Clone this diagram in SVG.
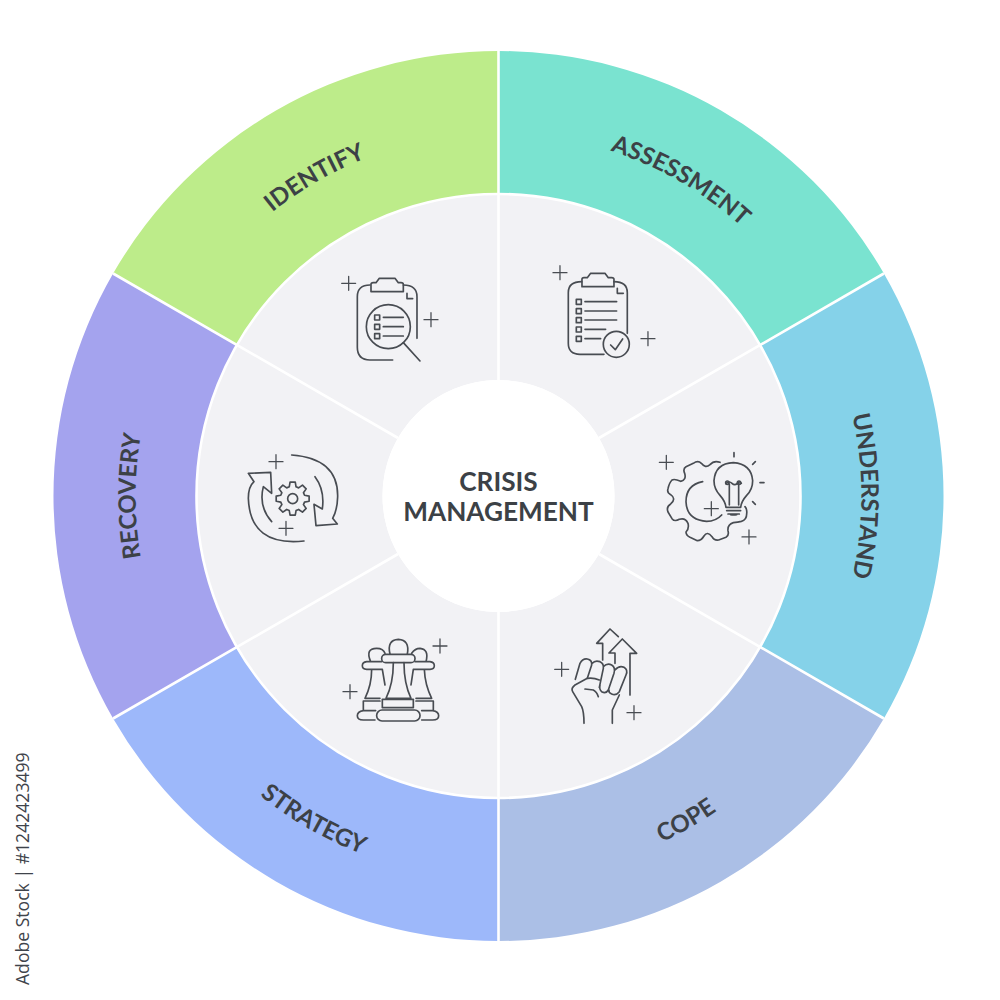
<svg xmlns="http://www.w3.org/2000/svg" width="1000" height="1000" viewBox="0 0 1000 1000">
<style>
.in{fill:#f2f2f5}
.sep{stroke:#fff;stroke-width:2.6;fill:none}
.lab{font-family:Lato,"Open Sans",sans-serif;font-weight:700;font-size:24px;fill:#3c4146;text-anchor:middle}
.ic{fill:none;stroke:#484c52;stroke-width:5;stroke-linecap:round;stroke-linejoin:round}
.sp{fill:none;stroke:#484c52;stroke-width:3.8;stroke-linecap:round}
</style>
<defs>
<path id="a1" d="M184.300 314.500A363 363 0 0 1 498.500 133"/>
<path id="a2" d="M498.500 133A363 363 0 0 1 812.700 314.500"/>
<path id="a3" d="M812.700 314.500A363 363 0 0 1 812.700 677.500"/>
<path id="a4" d="M498.500 879A383 383 0 0 0 830.200 687.500"/>
<path id="a5" d="M166.800 687.500A383 383 0 0 0 498.500 879"/>
<path id="a6" d="M184.300 677.500A363 363 0 0 1 184.300 314.500"/>
<path id="s" d="M-21 0H21M0 -21V21"/>
</defs>
<rect width="1000" height="1000" fill="#fff"/>

<g id="identify">
<path fill="#bdec8a" d="M113.100 273.500A445 445 0 0 1 498.500 51V194A302 302 0 0 0 237 345Z"/>
<path class="in" d="M237 345A302 302 0 0 1 498.500 194V380A116 116 0 0 0 398 438Z"/>
<text class="lab"><textPath href="#a1" startOffset="50%">IDENTIFY</textPath></text>
<g transform="translate(320 250) scale(.3333)">
<path class="ic" d="M218 330H150Q112 330 112 292V140Q112 105 150 105M250 105Q291 105 291 140V265"/>
<path class="ic" d="M153 125V103Q153 98 160 98H168L178 85H225L235 98H243Q250 98 250 103V125Z"/>
<path class="ic" d="M261 130V146H278"/>
<circle class="ic" cx="205" cy="230" r="66"/>
<path class="ic" d="M250 278L300 333M164 195h15v15h-15zM164 223h15v15h-15zM164 251h15v15h-15zM190 202H250M190 230H250M190 258H250"/>
<use href="#s" class="sp" x="86" y="100"/><use href="#s" class="sp" x="333" y="209"/>
</g>
</g>

<g id="assessment">
<path fill="#7ae3d0" d="M498.500 51A445 445 0 0 1 883.900 273.500L760 345A302 302 0 0 0 498.500 194Z"/>
<path class="in" d="M498.500 194A302 302 0 0 1 760 345L599 438A116 116 0 0 0 498.500 380Z"/>
<text class="lab"><textPath href="#a2" startOffset="50%">ASSESSMENT</textPath></text>
<g transform="translate(320 250) scale(.3333)">
<path class="ic" d="M852 313H780Q745 313 745 280V128Q745 95 785 95M882 95Q922 95 922 128V250"/>
<path class="ic" d="M786 110V88Q786 83 792 83H802L812 70H855L865 83H875Q882 83 882 88V110Z"/>
<path class="ic" d="M892 115V130H910"/>
<path class="ic" d="M769 148h15v15h-15zM769 176h15v15h-15zM769 203h15v15h-15zM769 231h15v15h-15zM769 259h15v15h-15zM795 155H890M795 183H890M795 210H890M795 238H857M795 266H842"/>
<circle class="ic" cx="889" cy="283" r="39"/>
<path class="ic" d="M872 285L886 299L908 267"/>
<use href="#s" class="sp" x="720" y="68"/><use href="#s" class="sp" x="984" y="266"/>
</g>
</g>

<g id="understand">
<path fill="#85d2e9" d="M883.900 273.500A445 445 0 0 1 883.900 718.500L760 647A302 302 0 0 0 760 345Z"/>
<path class="in" d="M760 345A302 302 0 0 1 760 647L599 554A116 116 0 0 0 599 438Z"/>
<text class="lab"><textPath href="#a3" startOffset="50%">UNDERSTAND</textPath></text>
<g transform="translate(640 430) scale(.3333)">
<path class="ic" d="M240 97Q222 90 210 104Q196 116 184 100Q174 90 160 100L138 110Q128 116 134 130Q140 150 122 154Q104 146 96 150Q88 158 84 176Q80 188 92 194Q110 206 92 222Q78 230 84 246L96 266Q104 276 118 268Q136 262 144 280Q148 296 138 306Q138 316 150 322L172 332Q184 332 192 318Q202 302 216 320Q222 332 236 330L258 322Q268 316 264 302Q262 284 280 278Q294 276 304 274Q320 270 320 252Q322 238 315 230"/>
<path class="ic" d="M188 155Q138 165 138 215Q140 270 200 274Q228 274 245 255"/>
<path class="ic" d="M258 232Q256 214 240 196Q222 176 222 152Q226 100 280 98Q334 102 338 152Q338 178 320 196Q304 214 302 232Z"/>
<path class="ic" d="M268 162V225M296 162V225M258 160Q268 152 276 160Q284 168 292 160Q300 152 304 160"/>
<circle class="ic" cx="262" cy="158" r="5"/><circle class="ic" cx="297" cy="158" r="5"/>
<path class="ic" d="M260 242H302M264 252H298M272 254Q280 256 290 254M282 68V80M346 95L338 103M360 158H372M338 215L346 223"/>
<use href="#s" class="sp" x="79" y="97"/><use href="#s" class="sp" x="214" y="236"/><use href="#s" class="sp" x="327" y="321"/>
</g>
</g>

<g id="cope">
<path fill="#abbfe6" d="M883.900 718.500A445 445 0 0 1 498.500 941V798A302 302 0 0 0 760 647Z"/>
<path class="in" d="M760 647A302 302 0 0 1 498.500 798V612A116 116 0 0 0 599 554Z"/>
<text class="lab"><textPath href="#a4" startOffset="50%">COPE</textPath></text>
<g transform="translate(530 610) scale(.3333)">
<path class="ic" d="M218 150V100H200L240 57L265 80M255 160V129H237L277 87L320 130H300V255"/>
<path class="ic" d="M136 208L150 160Q158 145 172 147Q187 150 185 165L172 205M187 160Q195 150 210 155Q222 160 220 175L208 232M220 170Q232 158 245 165Q257 172 252 190L235 240Q228 252 215 245Q207 238 210 225M255 180Q268 165 282 172Q295 180 288 195L268 245Q258 258 245 252Q235 248 237 240"/>
<path class="ic" d="M172 205L135 225Q122 235 128 245L155 290Q162 305 162 340M268 255L247 300V340M165 237L190 240Q200 245 205 260M172 205Q190 202 208 210"/>
<use href="#s" class="sp" x="95" y="178"/><use href="#s" class="sp" x="312" y="308"/>
</g>
</g>

<g id="strategy">
<path fill="#9db8fa" d="M498.500 941A445 445 0 0 1 113.100 718.500L237 647A302 302 0 0 0 498.500 798Z"/>
<path class="in" d="M498.500 798A302 302 0 0 1 237 647L398 554A116 116 0 0 0 498.500 612Z"/>
<text class="lab"><textPath href="#a5" startOffset="50.500%">STRATEGY</textPath></text>
<g transform="translate(330 620) scale(.3333)">
<path class="ic" d="M180 102Q170 60 205 58Q240 60 232 102"/>
<rect class="ic" x="155" y="103" width="100" height="25" rx="12"/>
<path class="ic" d="M190 128Q190 190 168 235H243Q222 190 222 128"/>
<rect class="ic" x="157" y="238" width="93" height="25"/>
<rect class="ic" x="140" y="270" width="130" height="33" rx="16"/>
<path class="ic" d="M122 125Q105 85 140 85Q160 85 165 100M155 125H110Q97 127 97 137Q97 147 110 148H155M125 148Q125 195 105 235H150M157 148L165 195M100 272V243H150M137 272H100Q82 275 82 287Q82 300 100 300H135"/>
<path class="ic" d="M245 100Q255 85 270 85Q298 88 288 125M255 125H300Q313 127 313 137Q313 147 300 148H250M283 148Q285 195 305 235H258M250 148L243 195M310 272V243H258M275 272H308Q326 275 326 287Q326 300 308 300H275"/>
<use href="#s" class="sp" x="60" y="215"/><use href="#s" class="sp" x="330" y="78"/>
</g>
</g>

<g id="recovery">
<path fill="#a4a3ee" d="M113.100 718.500A445 445 0 0 1 113.100 273.500L237 345A302 302 0 0 0 237 647Z"/>
<path class="in" d="M237 647A302 302 0 0 1 237 345L398 438A116 116 0 0 0 398 554Z"/>
<text class="lab"><textPath href="#a6" startOffset="50%">RECOVERY</textPath></text>
<g transform="translate(230 440) scale(.3333)">
<path class="ic" d="M185 45Q325 55 323 170Q322 210 308 235L322 252L258 257L252 193L277 207Q285 150 255 110"/>
<path class="ic" d="M222 303Q60 320 55 175Q55 140 72 125L55 100L122 97L125 160L100 140Q85 200 125 245"/>
<circle class="ic" cx="188" cy="176" r="15"/>
<path class="ic" transform="translate(188 176)" d="M35.600 -10.200L49.400 -7.800V7.800L35.600 10.200L32.400 17.900L40.500 29.400L29.400 40.500L17.900 32.400L10.200 35.600L7.800 49.400H-7.800L-10.200 35.600L-17.900 32.400L-29.400 40.500L-40.500 29.400L-32.400 17.900L-35.600 10.200L-49.400 7.800V-7.800L-35.600 -10.200L-32.400 -17.900L-40.500 -29.400L-29.400 -40.500L-17.900 -32.400L-10.200 -35.600L-7.800 -49.400H7.800L10.200 -35.600L17.900 -32.400L29.400 -40.500L40.500 -29.400L32.400 -17.900Z"/>
<use href="#s" class="sp" x="138" y="65"/><use href="#s" class="sp" x="168" y="265"/>
</g>
</g>

<g id="separators">
<path class="sep" d="M498.500 51V380M498.500 612V941M113.100 273.500L398 438M883.900 273.500L599 438M113.100 718.500L398 554M883.900 718.500L599 554"/>
<circle class="sep" cx="498.500" cy="496" r="302"/>
</g>

<g id="center">
<circle cx="498.500" cy="496" r="116" fill="#fff"/>
<text font-family="Lato,'Open Sans',sans-serif" font-weight="700" font-size="26.200" fill="#3c4146" text-anchor="middle" x="498.500" y="491">CRISIS</text>
<text font-family="Lato,'Open Sans',sans-serif" font-weight="700" font-size="26.200" fill="#3c4146" text-anchor="middle" x="498.500" y="521">MANAGEMENT</text>
</g>

<text id="credit" transform="translate(29 985) rotate(-90)" font-family="'Open Sans','Liberation Sans',sans-serif" font-weight="500" font-size="17.600" fill="#3f444b">Adobe Stock | #1242423499</text>
</svg>
